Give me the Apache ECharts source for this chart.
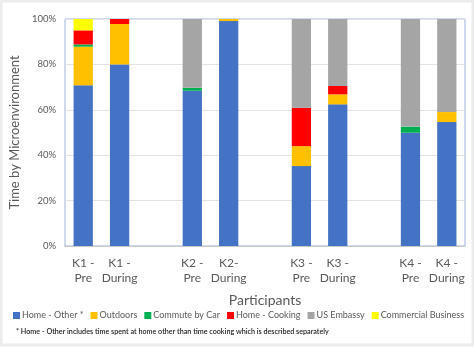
<!DOCTYPE html>
<html>
<head>
<meta charset="utf-8">
<script src="https://cdn.jsdelivr.net/npm/echarts@6/dist/echarts.min.js"></script>
<style>
  html, body { margin: 0; padding: 0; background: #ffffff; }
  #chart { width: 474px; height: 348px; }
</style>
</head>
<body>
<div id="chart"></div>
<script>
// Participant periods; empty entries leave a gap between participants
const categories = ['K1 -\nPre', 'K1 -\nDuring', '', 'K2 -\nPre', 'K2-\nDuring', '',
  'K3 -\nPre', 'K3 -\nDuring', '', 'K4 -\nPre', 'K4 -\nDuring'];

// Share of time (%) spent in each microenvironment
const homeOther   = [70.8, 80.0, null, 68.4, 99.1, null, 35.2, 62.4, null, 49.9, 54.6];
const outdoors    = [17.0, 17.8, null, 0,    0.9,  null, 8.8,  4.4,  null, 0,    4.4];
const commute     = [1.0,  0,    null, 1.3,  0,    null, 0,    0,    null, 2.7,  0];
const cooking     = [6.2,  2.2,  null, 0,    0,    null, 16.9, 3.7,  null, 0,    0];
const usEmbassy   = [0,    0,    null, 30.3, 0,    null, 39.1, 29.5, null, 47.4, 41.0];
const commercial  = [5.0,  0,    null, 0,    0,    null, 0,    0,    null, 0,    0];

const yTicks = [0, 20, 40, 60, 80, 100];

const seriesDefs = [
  ['Home - Other *', homeOther, '#4472C4'],
  ['Outdoors', outdoors, '#FFC000'],
  ['Commute by Car', commute, '#00B050'],
  ['Home - Cooking', cooking, '#FF0000'],
  ['US Embassy', usEmbassy, '#A5A5A5'],
  ['Commercial Business', commercial, '#FFFF00']
];

const font = 'Lato, "Open Sans", sans-serif';
const chart = echarts.init(document.getElementById('chart'), null, { renderer: 'canvas' });

chart.setOption({
  animation: false,
  textStyle: { fontFamily: font },
  grid: {
    left: 50, right: 9, top: 19, bottom: 102,
    show: true, borderColor: '#9DB3DE', borderWidth: 1
  },
  xAxis: {
    type: 'category',
    data: categories,
    axisTick: { show: false },
    axisLine: { show: true, lineStyle: { color: '#C9C9C9' } },
    axisLabel: { color: '#595959', fontSize: 12, lineHeight: 15, margin: 10, interval: 0 },
    name: 'Participants',
    nameLocation: 'middle',
    nameGap: 47,
    nameTextStyle: { color: '#595959', fontSize: 14, fontFamily: font }
  },
  yAxis: {
    type: 'value',
    min: yTicks[0],
    max: yTicks[yTicks.length - 1],
    interval: 20,
    axisLabel: { formatter: '{value}%', color: '#595959', fontSize: 9.5, margin: 9 },
    splitLine: { lineStyle: { color: '#E3E3E3' } },
    axisLine: { show: false },
    axisTick: { show: false },
    name: 'Time by Microenvironment',
    nameLocation: 'middle',
    nameGap: 34,
    nameTextStyle: { color: '#595959', fontSize: 13, fontFamily: font }
  },
  legend: {
    left: 8,
    top: 306,
    width: 466,
    itemWidth: 7,
    itemHeight: 7,
    itemGap: 7,
    icon: 'rect',
    textStyle: { color: '#595959', fontSize: 9, padding: [0, 0, 0, -3] },
    data: seriesDefs.map(d => d[0])
  },
  graphic: [
    {
      type: 'rect',
      shape: { x: 1, y: 1, width: 472, height: 344 },
      style: { fill: 'none', stroke: '#ECECEC', lineWidth: 3 },
      silent: true
    },
    {
      type: 'text',
      left: 16,
      top: 328,
      style: {
        text: '* Home - Other includes time spent at home other than time cooking which is described separately',
        fill: '#222222',
        font: '600 7.2px ' + font
      }
    }
  ],
  series: seriesDefs.map(([name, values, color]) => ({
    name,
    type: 'bar',
    stack: 'total',
    data: values,
    barWidth: '53%',
    itemStyle: { color },
    emphasis: { disabled: true }
  }))
});
</script>
</body>
</html>
